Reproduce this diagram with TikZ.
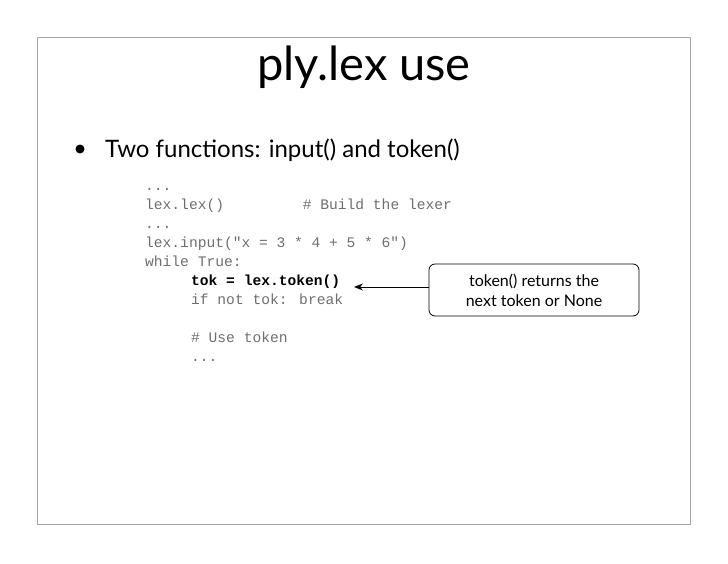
\documentclass[tikz,border=0pt]{standalone}
\usepackage{fontspec}
\usetikzlibrary{arrows.meta}
\setmainfont{Lato}
\newfontfamily\codefont{Liberation Mono}
\definecolor{codegray}{RGB}{110,110,110}
\begin{document}
\begin{tikzpicture}[x=1pt,y=-1pt,
  codeline/.style={anchor=base west,inner sep=0pt,font=\codefont\fontsize{14.6}{15}\selectfont,text=codegray},
  boldline/.style={codeline,text=black,font=\codefont\bfseries\fontsize{14.6}{15}\selectfont}]
\useasboundingbox (0,0) rectangle (728,563);
\draw[gray!70,line width=0.8] (37,37) rectangle (690,524);
\node[font=\fontsize{47}{50}\selectfont] (title) at (364,67) {ply.lex use};
\node[anchor=base west,inner sep=0pt,font=\fontsize{24}{28}\selectfont] (bul) at (105,157) {Two functions: input() and token()};
\fill (80,149) circle (4.5);
\node[codeline] (l1) at (145,190) {...};
\node[codeline] (l2) at (145,209) {lex.lex()\ \ \ \ \ \ \ \ \ \# Build the lexer};
\node[codeline] (l3) at (145,228) {...};
\node[codeline] (l4) at (145,247) {lex.input("x = 3 * 4 + 5 * 6")};
\node[codeline] (l5) at (145,266) {while True:};
\node[boldline] (l6) at (191,285) {tok = lex.token()};
\node[codeline] (l7) at (191,304) {if not tok: break};
\node[codeline] (l8) at (191,342) {\# Use token};
\node[codeline] (l9) at (191,361) {...};
\node[draw,rounded corners=6,line width=0.8,minimum width=210,minimum height=52,align=center,
  font=\fontsize{16}{20}\selectfont] (call) at (534,290) {token() returns the\\next token or None};
\draw[-{Stealth[length=9pt,width=7pt]},line width=1] (call.west|-0,287) -- (354,287);
\end{tikzpicture}
\end{document}
